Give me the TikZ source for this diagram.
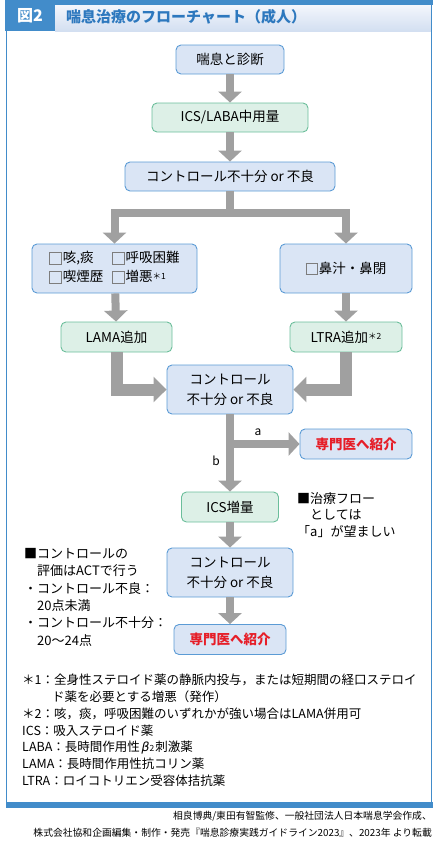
\documentclass[tikz,border=0pt]{standalone}
\usepackage{fontspec}
\setmainfont{Noto Sans CJK JP}
\newfontfamily\greekfont[FakeSlant=0.2]{DejaVu Sans}
\usetikzlibrary{arrows.meta}
\definecolor{framecol}{RGB}{66,140,202}
\definecolor{titlecol}{RGB}{45,120,190}
\definecolor{titletop}{RGB}{243,246,252}
\definecolor{titlebot}{RGB}{211,223,241}
\definecolor{boxfill}{RGB}{218,229,245}
\definecolor{boxline}{RGB}{91,155,213}
\definecolor{grnfill}{RGB}{221,240,231}
\definecolor{grnline}{RGB}{107,190,155}
\definecolor{arrgray}{RGB}{160,160,160}
\definecolor{refred}{RGB}{230,30,40}
\definecolor{chkgray}{RGB}{125,125,125}
\newcommand\chk{\raisebox{-1.2pt}{\color{chkgray}\setlength{\fboxrule}{0.7pt}\setlength{\fboxsep}{0pt}\fbox{\rule{0pt}{11pt}\rule{11pt}{0pt}}}\hspace{1pt}}
\newcommand\fnmark[1]{\raisebox{2.5pt}{\fontsize{8.5}{8}\selectfont ＊#1}}
\begin{document}
\begin{tikzpicture}[
    x=1pt, y=-1pt,
    every node/.style={inner sep=0pt, font=\fontsize{13}{17}\selectfont},
    bluebox/.style={draw=boxline, fill=boxfill, rounded corners=5pt, line width=0.9pt,
        align=center, minimum height=30pt, font=\fontsize{13.5}{20}\selectfont},
    greenbox/.style={bluebox, draw=grnline, fill=grnfill},
    redtext/.style={text=refred, font=\fontsize{13.5}{20}\selectfont\bfseries},
    flow/.style={draw=arrgray, line width=8pt, -{Triangle[width=23pt,length=11pt]}},
    bigflow/.style={draw=arrgray, line width=12pt, -{Triangle[width=25pt,length=13pt]}}
]
\useasboundingbox (0,0) rectangle (436,841);
\fill[framecol] (5,0) rectangle (55,31);
\fill[framecol] (55,0) rectangle (432.5,5);
\shade[top color=titletop, bottom color=titlebot] (55,5) rectangle (431,31);
\draw[framecol, line width=1.4pt] (6.2,31) -- (6.2,803) (431.6,5) -- (431.6,803);
\fill[framecol] (5.5,802) rectangle (432.5,807.5);
\node[text=white, font=\fontsize{16}{16}\selectfont\bfseries] (fig) at (30,16) {図2};
\node[anchor=west, text=titlecol, font=\fontsize{15}{15}\selectfont\bfseries] (title) at (66,17)
    {喘息治療のフローチャート（成人）};

\node[bluebox, minimum width=108pt, minimum height=29pt] (diag) at (230,59.5) {喘息と診断};
\node[greenbox, minimum width=156pt, minimum height=29pt] (icslaba) at (230,117.5) {ICS/LABA中用量};
\node[bluebox, minimum width=210pt, minimum height=29pt] (ctl) at (230,176.5) {コントロール不十分 or 不良};
\node[bluebox, minimum width=165pt, minimum height=49pt, font=\fontsize{13.5}{19}\selectfont] (sym) at (114.5,268.5)
    {\begin{tabular}{@{}l@{\hspace{9pt}}l@{}}\chk 咳,痰 & \chk 呼吸困難\\ \chk 喫煙歴 & \chk 増悪\fnmark{1}\end{tabular}};
\node[bluebox, minimum width=132pt, minimum height=49pt] (nose) at (346,268.5) {\chk 鼻汁・鼻閉};
\node[greenbox, minimum width=111pt] (lama) at (116.5,337) {LAMA追加};
\node[greenbox, minimum width=112pt] (ltra) at (346,337) {LTRA追加\fnmark{2}};
\node[bluebox, minimum width=126pt, minimum height=49pt] (ctl2) at (230,389.5) {コントロール\\不十分 or 不良};
\node[bluebox, minimum width=112pt, redtext] (ref1) at (356,444) {専門医へ紹介};
\node[greenbox, minimum width=97pt] (icsup) at (230,507) {ICS増量};
\node[bluebox, minimum width=126pt, minimum height=49pt] (ctl3) at (230,572.5) {コントロール\\不十分 or 不良};
\node[bluebox, minimum width=112pt, redtext] (ref2) at (230,639.5) {専門医へ紹介};

\coordinate (fork) at (230,213);
\coordinate (split) at (230,444);
\draw[flow] (diag) -- (icslaba);
\draw[flow] (icslaba) -- (ctl);
\draw[flow] (ctl.south) -- (fork) -| (sym.north);
\draw[flow] (ctl.south) -- (fork) -| (nose.north);
\draw[flow] (sym) -- (lama);
\draw[flow] (nose) -- (ltra);
\draw[bigflow] (lama.south) |- (ctl2.west);
\draw[bigflow] (ltra.south) |- (ctl2.east);
\draw[flow] (ctl2) -- (icsup);
\draw[flow] (split) -- (ref1.west);
\draw[flow] (icsup) -- (ctl3);
\draw[flow] (ctl3) -- (ref2);
\node[font=\fontsize{12}{12}\selectfont] (alab) at (258,432) {a};
\node[font=\fontsize{12}{12}\selectfont] (blab) at (216,461) {b};

\node[anchor=north west, align=left, font=\fontsize{13}{16.5}\selectfont] (flownote) at (297,492)
    {■治療フロー\\\hspace*{1em}としては\\「a」が望ましい};
\node[anchor=north west, align=left, font=\fontsize{13}{17.4}\selectfont] (actnote) at (24,548)
    {■コントロールの\\\hspace*{1em}評価はACTで行う\\・コントロール不良：\\\hspace*{1em}20点未満\\・コントロール不十分：\\\hspace*{1em}20〜24点};
\node[anchor=north west, align=left, font=\fontsize{12.5}{16.8}\selectfont] (notes) at (22,674)
    {＊1：全身性ステロイド薬の静脈内投与，または短期間の経口ステロイ\\
     \hspace*{2.4em}ド薬を必要とする増悪（発作）\\
     ＊2：咳，痰，呼吸困難のいずれかが強い場合はLAMA併用可\\
     ICS：吸入ステロイド薬\\
     LABA：長時間作用性\hspace{1pt}{\greekfont β}\hspace{0.8pt}{\fontsize{8.5}{8}\selectfont 2}\hspace{1pt}刺激薬\\
     LAMA：長時間作用性抗コリン薬\\
     LTRA：ロイコトリエン受容体拮抗薬};
\node[anchor=east, font=\fontsize{9.8}{12}\selectfont] (credit1) at (432,816)
    {相良博典/東田有智監修、一般社団法人日本喘息学会作成、};
\node[anchor=east, font=\fontsize{9.8}{12}\selectfont] (credit2) at (432,833)
    {株式会社協和企画編集・制作・発売『喘息診療実践ガイドライン2023』、2023年 より転載};
\end{tikzpicture}
\end{document}
